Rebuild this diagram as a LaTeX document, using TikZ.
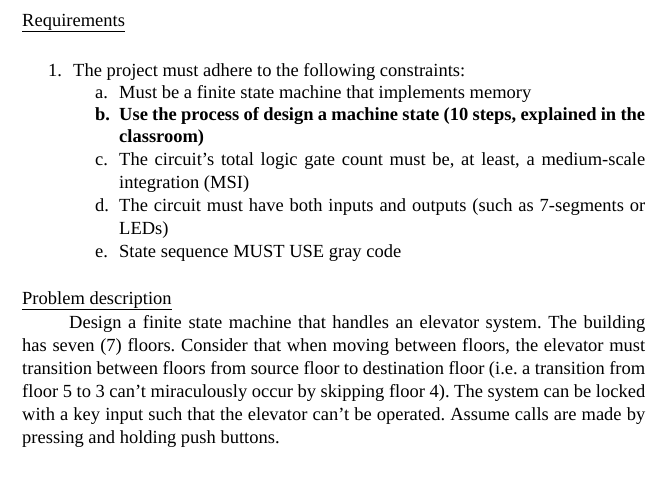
\documentclass[tikz,border=0pt]{standalone}
\usepackage{fontspec}
\setmainfont{Liberation Serif}
\frenchspacing
\begin{document}
\begin{tikzpicture}[x=1pt,y=1pt,every node/.style={anchor=base west,inner sep=0pt,font=\fontsize{18.5}{22}\selectfont}]
\useasboundingbox (0,0) rectangle (666,-493);
\node (h1) at (22,-26) {\underline{Requirements}};
\node (n1) at (48,-76) {1.};
\node (t1) at (73,-76) {The project must adhere to the following constraints:};
\node (la) at (95,-98) {a.};
\node (ta) at (119,-98) {Must be a finite state machine that implements memory};
\node (lb) at (95,-120) {\textbf{b.}};
\node (tb) at (119,-120) {\makebox[526pt][s]{\textbf{Use the process of design a machine state (10 steps, explained in the}}};
\node (tb2) at (119,-142) {\textbf{classroom)}};
\node (lc) at (95,-165) {c.};
\node (tc) at (119,-165) {\makebox[526pt][s]{The circuit’s total logic gate count must be, at least, a medium-scale}};
\node (tc2) at (119,-188) {integration (MSI)};
\node (ld) at (95,-211) {d.};
\node (td) at (119,-211) {\makebox[526pt][s]{The circuit must have both inputs and outputs (such as 7-segments or}};
\node (td2) at (119,-234) {LEDs)};
\node (le) at (95,-257) {e.};
\node (te) at (119,-257) {State sequence MUST USE gray code};
\node (h2) at (22,-304) {\underline{Problem description}};
\node (p1) at (69,-328) {\makebox[576pt][s]{Design a finite state machine that handles an elevator system. The building}};
\node (p2) at (22,-351) {\makebox[623pt][s]{has seven (7) floors. Consider that when moving between floors, the elevator must}};
\node (p3) at (22,-374) {\makebox[623pt][s]{transition between floors from source floor to destination floor (i.e. a transition from}};
\node (p4) at (22,-397) {\makebox[623pt][s]{floor 5 to 3 can’t miraculously occur by skipping floor 4). The system can be locked}};
\node (p5) at (22,-420) {\makebox[623pt][s]{with a key input such that the elevator can’t be operated. Assume calls are made by}};
\node (p6) at (22,-443) {pressing and holding push buttons.};
\end{tikzpicture}
\end{document}
